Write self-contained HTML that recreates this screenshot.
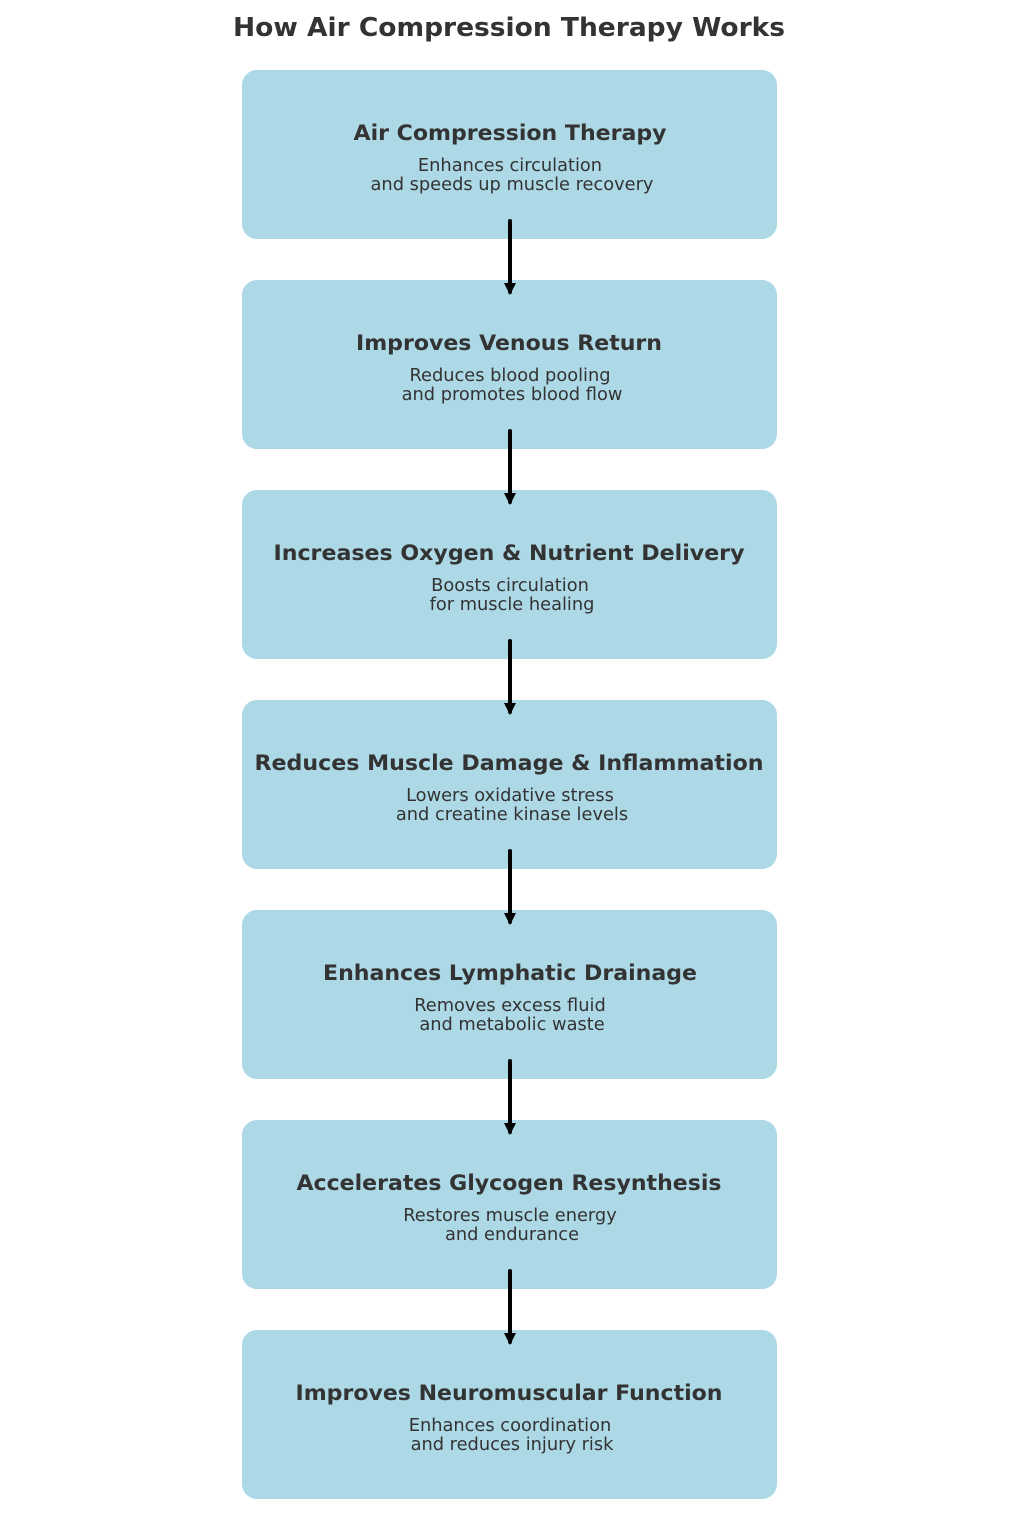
<!DOCTYPE html>
<html><head><meta charset="utf-8"><style>
html,body{margin:0;padding:0;background:#fff;}
svg{display:block;}
.t{font-family:"DejaVu Sans","Liberation Sans",sans-serif;font-weight:bold;font-size:21px;fill:#333;}
.s{font-family:"DejaVu Sans","Liberation Sans",sans-serif;font-size:17.8px;fill:#333;}
.h{font-family:"DejaVu Sans","Liberation Sans",sans-serif;font-weight:bold;font-size:26px;fill:#333;}
</style></head><body>
<svg width="1019" height="1536" viewBox="0 0 1019 1536" xmlns="http://www.w3.org/2000/svg">
<text class="h" x="509" y="36" text-anchor="middle" textLength="552" lengthAdjust="spacingAndGlyphs">How Air Compression Therapy Works</text>

<g fill="#add8e6">
<rect x="242" y="70" width="535" height="169" rx="15"/>
<rect x="242" y="280" width="535" height="169" rx="15"/>
<rect x="242" y="490" width="535" height="169" rx="15"/>
<rect x="242" y="700" width="535" height="169" rx="15"/>
<rect x="242" y="910" width="535" height="169" rx="15"/>
<rect x="242" y="1120" width="535" height="169" rx="15"/>
<rect x="242" y="1330" width="535" height="169" rx="15"/>
</g>

<g text-anchor="middle">
<text class="t" x="510" y="140" textLength="313" lengthAdjust="spacingAndGlyphs">Air Compression Therapy</text>
<text class="s" x="510" y="171">Enhances circulation</text>
<text class="s" x="512" y="190">and speeds up muscle recovery</text>

<text class="t" x="509" y="350" textLength="306" lengthAdjust="spacingAndGlyphs">Improves Venous Return</text>
<text class="s" x="510" y="381">Reduces blood pooling</text>
<text class="s" x="512" y="400">and promotes blood flow</text>

<text class="t" x="509" y="560" textLength="471" lengthAdjust="spacingAndGlyphs">Increases Oxygen &amp; Nutrient Delivery</text>
<text class="s" x="510" y="591">Boosts circulation</text>
<text class="s" x="512" y="610">for muscle healing</text>

<text class="t" x="509" y="770" textLength="509" lengthAdjust="spacingAndGlyphs">Reduces Muscle Damage &amp; Inflammation</text>
<text class="s" x="510" y="801">Lowers oxidative stress</text>
<text class="s" x="512" y="820">and creatine kinase levels</text>

<text class="t" x="510" y="980" textLength="374" lengthAdjust="spacingAndGlyphs">Enhances Lymphatic Drainage</text>
<text class="s" x="510" y="1011">Removes excess fluid</text>
<text class="s" x="512" y="1030">and metabolic waste</text>

<text class="t" x="509" y="1190" textLength="425" lengthAdjust="spacingAndGlyphs">Accelerates Glycogen Resynthesis</text>
<text class="s" x="510" y="1221">Restores muscle energy</text>
<text class="s" x="512" y="1240">and endurance</text>

<text class="t" x="509" y="1400" textLength="427" lengthAdjust="spacingAndGlyphs">Improves Neuromuscular Function</text>
<text class="s" x="510" y="1431">Enhances coordination</text>
<text class="s" x="512" y="1450">and reduces injury risk</text>
</g>

<g stroke="#000" stroke-width="4" fill="none" stroke-linecap="round">
<line x1="510" y1="221" x2="510" y2="292"/>
<line x1="510" y1="431" x2="510" y2="502"/>
<line x1="510" y1="641" x2="510" y2="712"/>
<line x1="510" y1="851" x2="510" y2="922"/>
<line x1="510" y1="1061" x2="510" y2="1132"/>
<line x1="510" y1="1271" x2="510" y2="1342"/>
</g>
<g fill="#000">
<polygon points="504,283 516,283 510,295"/>
<polygon points="504,493 516,493 510,505"/>
<polygon points="504,703 516,703 510,715"/>
<polygon points="504,913 516,913 510,925"/>
<polygon points="504,1123 516,1123 510,1135"/>
<polygon points="504,1333 516,1333 510,1345"/>
</g>
</svg>
</body></html>
